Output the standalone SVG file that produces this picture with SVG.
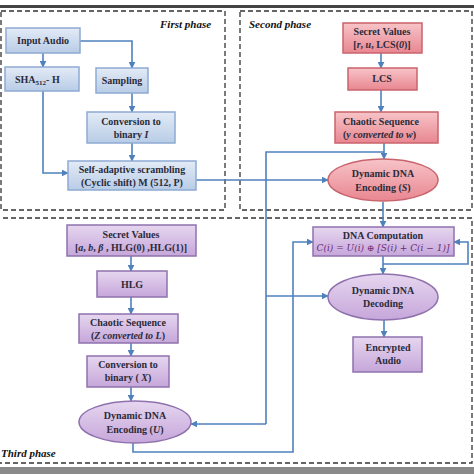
<svg xmlns="http://www.w3.org/2000/svg" width="474" height="474" viewBox="0 0 474 474">
<defs>
<linearGradient id="gb" x1="0" y1="0" x2="0" y2="1"><stop offset="0" stop-color="#e3ebf6"/><stop offset="1" stop-color="#b8cce6"/></linearGradient>
<linearGradient id="gp" x1="0" y1="0" x2="0" y2="1"><stop offset="0" stop-color="#f7c4c8"/><stop offset="1" stop-color="#e98690"/></linearGradient>
<linearGradient id="gv" x1="0" y1="0" x2="0" y2="1"><stop offset="0" stop-color="#e6d6ef"/><stop offset="1" stop-color="#c6a6da"/></linearGradient>
<marker id="ah" viewBox="0 0 10 10" refX="9" refY="5" markerWidth="7" markerHeight="7" markerUnits="userSpaceOnUse" orient="auto"><path d="M0,0 L10,5 L0,10 z" fill="#4f81bd"/></marker>
<style>
.blue{fill:url(#gb);stroke:#8eaad3;stroke-width:1.5}
.pink{fill:url(#gp);stroke:#c9646c;stroke-width:1.5}
.vio{fill:url(#gv);stroke:#8f72ad;stroke-width:1.5}
.t{font-family:"Liberation Serif","Times New Roman",serif;font-size:10px;font-weight:bold;fill:#2b2b3a;text-anchor:middle}
.l{text-anchor:start}
.bi{font-style:italic}
.ph{font-family:"Liberation Serif","Times New Roman",serif;font-size:11px;font-weight:bold;font-style:italic;fill:#111}
.dash{fill:none;stroke:#333;stroke-width:1.3;stroke-dasharray:5 3}
.c{fill:none;stroke:#4f81bd;stroke-width:1.6}
.a{marker-end:url(#ah)}
.m{font-family:"DejaVu Serif","Liberation Serif",serif;font-size:9px;font-weight:normal;font-style:italic;fill:#6a2a78;text-anchor:middle}
</style>
</defs>
<rect x="0" y="0" width="474" height="474" fill="#ffffff"/>
<rect x="0" y="5" width="474" height="3" fill="#444"/>
<rect x="0" y="467" width="474" height="7" fill="#8a8a8a"/>

<g id="phases">
<rect class="dash" x="1" y="11" width="224" height="199"/>
<rect class="dash" x="240" y="11" width="232" height="199"/>
<rect class="dash" x="-5" y="218" width="477" height="245"/>
<text class="ph" x="1" y="457">Third phase</text>
<text class="ph" x="160" y="28">First phase</text>
<text class="ph" x="249" y="28">Second phase</text>
</g>

<g id="connectors">
<path class="c a" d="M43,53 V67"/>
<path class="c a" d="M80,41 H132 V68"/>
<path class="c a" d="M132,93 V112"/>
<path class="c a" d="M132,143 V161"/>
<path class="c a" d="M43,91 V173 H68"/>
<path class="c a" d="M196,180 H328"/>
<path class="c a" d="M381,53 V68"/>
<path class="c a" d="M381,90 V112"/>
<path class="c a" d="M384,143 V159"/>
<path class="c" d="M384,152 H266 V424"/>
<path class="c a" d="M266,424 H191"/>
<path class="c a" d="M266,296 H328"/>
<path class="c a" d="M383,202 V227"/>
<path class="c a" d="M131,256 V271"/>
<path class="c a" d="M131,297 V314"/>
<path class="c a" d="M131,343 V356"/>
<path class="c a" d="M131,387 V401"/>
<path class="c a" d="M133,443 V452 H293 V242 H313"/>
<path class="c a" d="M383,256 V274"/>
<path class="c a" d="M383,264 H468 V242 H454"/>
<path class="c a" d="M384,320 V337"/>
</g>

<g id="input-audio"><rect class="blue" x="6" y="28" width="74" height="25"/><text class="t" x="43" y="44">Input Audio</text></g>
<g id="sha"><rect class="blue" x="5" y="67" width="74" height="24"/><text class="t l" x="15" y="83">SHA<tspan font-size="7" dy="2">512</tspan><tspan dy="-2">- H</tspan></text></g>
<g id="sampling"><rect class="blue" x="96" y="68" width="52" height="25"/><text class="t" x="122" y="84">Sampling</text></g>
<g id="conv1"><rect class="blue" x="87" y="112" width="88" height="31"/><text class="t" x="131" y="125">Conversion to</text><text class="t" x="131" y="138">binary  <tspan class="bi">I</tspan></text></g>
<g id="scramble"><rect class="blue" x="68" y="161" width="128" height="29"/><text class="t" x="132" y="173">Self-adaptive scrambling</text><text class="t" x="132" y="186">(Cyclic shift) M (512, P)</text></g>

<g id="secret2"><rect class="pink" x="343" y="23" width="79" height="30"/><text class="t" x="382" y="35">Secret Values</text><text class="t" x="382" y="48">[<tspan class="bi">r</tspan>, <tspan class="bi">u</tspan>, LCS(<tspan class="bi">0</tspan>)]</text></g>
<g id="lcs"><rect class="pink" x="348" y="68" width="69" height="22"/><text class="t" x="382" y="82">LCS</text></g>
<g id="chaotic2"><rect class="pink" x="335" y="112" width="103" height="31"/><text class="t l" x="343" y="125">Chaotic Sequence</text><text class="t l" x="343" y="138">(<tspan class="bi">y converted to w</tspan>)</text></g>
<g id="encS"><ellipse class="pink" cx="383" cy="180" rx="55" ry="21"/><text class="t" x="383" y="177">Dynamic DNA</text><text class="t" x="383" y="191">Encoding (<tspan class="bi">S</tspan>)</text></g>

<g id="secret3"><rect class="vio" x="67" y="225" width="129" height="31"/><text class="t" x="131" y="238">Secret Values</text><text class="t" x="131" y="251">[<tspan class="bi">a</tspan>, <tspan class="bi">b</tspan>, <tspan class="bi">β</tspan> , HLG(0) ,HLG(1)]</text></g>
<g id="hlg"><rect class="vio" x="97" y="271" width="70" height="26"/><text class="t" x="132" y="288">HLG</text></g>
<g id="chaotic3"><rect class="vio" x="79" y="314" width="99" height="29"/><text class="t" x="128" y="326">Chaotic Sequence</text><text class="t" x="128" y="339">(<tspan class="bi">Z converted to L</tspan>)</text></g>
<g id="conv3"><rect class="vio" x="87" y="356" width="82" height="31"/><text class="t" x="128" y="368">Conversion to</text><text class="t" x="128" y="381">binary ( <tspan class="bi">X</tspan>)</text></g>
<g id="encU"><ellipse class="vio" cx="135" cy="422" rx="56" ry="21"/><text class="t" x="135" y="419">Dynamic DNA</text><text class="t" x="135" y="433">Encoding  (<tspan class="bi">U</tspan>)</text></g>

<g id="dnacomp"><rect class="vio" x="313" y="227" width="141" height="29"/><text class="t" x="383" y="239">DNA Computation</text><text class="m" x="383" y="251">C(i) = U(i) ⊕ [S(i) + C(i − 1)]</text></g>
<g id="decode"><ellipse class="vio" cx="383" cy="297" rx="55" ry="23"/><text class="t" x="383" y="294">Dynamic DNA</text><text class="t" x="383" y="307">Decoding</text></g>
<g id="encrypted"><rect class="vio" x="353" y="337" width="69" height="35"/><text class="t" x="388" y="351">Encrypted</text><text class="t" x="388" y="364">Audio</text></g>
</svg>
